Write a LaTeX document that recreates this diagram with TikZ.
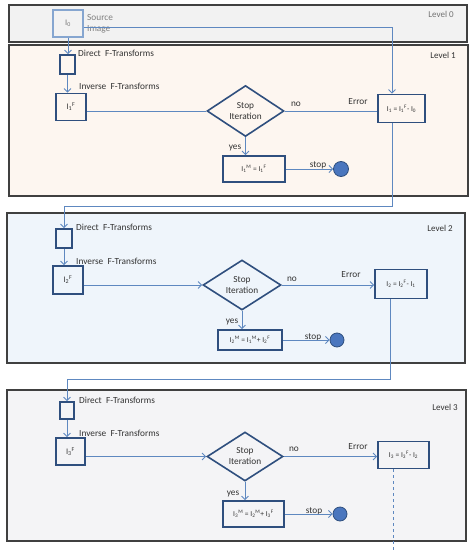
\documentclass[tikz,border=0pt]{standalone}
\usepackage{fontspec}
\setmainfont{Carlito}
\usetikzlibrary{shapes.geometric,arrows.meta,calc}
\definecolor{conn}{HTML}{5E88C0}
\definecolor{boxb}{HTML}{2F4F7E}
\definecolor{levb}{HTML}{404040}
\definecolor{txt}{HTML}{333333}
\definecolor{endfill}{HTML}{4A76BE}
\definecolor{fill0}{HTML}{F2F2F2}
\definecolor{fill1}{HTML}{FDF6F0}
\definecolor{fill2}{HTML}{EFF5FB}
\definecolor{fill3}{HTML}{F4F4F6}
\newcommand\Isub[1]{I\textsubscript{#1}}
\newcommand\Ist[2]{I\textsubscript{#1}\textsuperscript{#2}}
\begin{document}
\begin{tikzpicture}[x=1pt,y=-1pt,
  level/.style={draw=levb,line width=1.2pt},
  conn/.style={draw=conn,line width=0.9pt},
  arr/.style={conn,-{Straight Barb[length=3.5pt,width=7pt]}},
  bx/.style={draw=boxb,line width=1.6pt,inner sep=0,rectangle,text=txt,font=\fontsize{7.5}{9}\selectfont},
  dia/.style={diamond,draw=boxb,line width=1.6pt,inner sep=0,aspect=1.5,align=center,text=txt,font=\fontsize{9.3}{11}\selectfont},
  endc/.style={circle,fill=endfill,draw=boxb,line width=0.8pt,minimum size=15pt,inner sep=0},
  lbl/.style={inner sep=0,text=txt,font=\fontsize{9.3}{11}\selectfont},
  lvl/.style={inner sep=0,text=txt,font=\fontsize{9}{11}\selectfont}]
\useasboundingbox (0,0) rectangle (474,557);
\fill[white] (0,0) rectangle (474,557);
% level panels
\draw[level,fill=fill0] (9,5) rectangle (467,42);
\draw[level,fill=fill1] (9,45) rectangle (468,196);
\draw[level,fill=fill2] (7,213) rectangle (465,363);
\draw[level,fill=fill3] (7,390) rectangle (466,541);
\node[lvl,text=black!55] (lv0) at (441,14) {Level 0};
\node[lvl] (lv1) at (443,55) {Level 1};
\node[lvl] (lv2) at (440,228) {Level 2};
\node[lvl] (lv3) at (445,407) {Level 3};
% level 0
\node[bx,draw=conn!75,text=black!55,minimum width=30pt,minimum height=27pt,font=\fontsize{8.5}{10}\selectfont] (I0) at (68,23.5) {\Isub{0}};
\node[lbl,text=black!50,align=left,anchor=north west] (src) at (87,14) {Source\\Image};
% level 1
\node[bx,minimum width=15pt,minimum height=19pt] (D1) at (67.5,64.5) {};
\node[lbl,anchor=west] (dft1) at (78,53) {Direct\ \ F-Transforms};
\node[bx,minimum width=30pt,minimum height=27pt,font=\fontsize{8.5}{10}\selectfont] (I1F) at (71,107) {\Ist{1}{F}};
\node[lbl,anchor=west] (ift1) at (79,86) {Inverse\ \ F-Transforms};
\node[dia,minimum width=77pt,minimum height=51pt] (Dia1) at (245.5,111) {Stop\\Iteration};
\node[bx,minimum width=47pt,minimum height=28pt] (E1) at (401.5,108.5) {\Isub{1} = \Ist{1}{F}- \Isub{0}};
\node[bx,minimum width=62pt,minimum height=26pt] (M1) at (254,169) {\Ist{1}{M} = \Ist{1}{F}};
\node[endc] (C1) at (341,169) {};
\node[lbl] (no1) at (296,104) {no};
\node[lbl] (er1) at (358,102) {Error};
\node[lbl] (yes1) at (235,148) {yes};
\node[lbl] (st1) at (318,165) {stop};
\draw[arr] (I0.south) -- (I0.south |- D1.north);
\draw[arr] (D1.south) -- (D1.south |- I1F.north);
\draw[arr] ([yshift=-4pt]I0.east) -| ([xshift=-9.5pt]E1.north);
\draw[conn] (I1F.east |- Dia1) -- (Dia1.west);
\draw[conn] (Dia1.east) -- (Dia1.east -| E1.west);
\draw[arr] (Dia1.south) -- (Dia1.south |- M1.north);
\draw[arr] (M1.east) -- (C1.west);
% level 2
\node[bx,minimum width=16pt,minimum height=19pt] (D2) at (64,238.5) {};
\node[lbl,anchor=west] (dft2) at (76,227) {Direct\ \ F-Transforms};
\node[bx,minimum width=30pt,minimum height=28pt,font=\fontsize{8.5}{10}\selectfont] (I2F) at (68,280) {\Ist{2}{F}};
\node[lbl,anchor=west] (ift2) at (76,261) {Inverse\ \ F-Transforms};
\node[dia,minimum width=78pt,minimum height=50pt] (Dia2) at (242,285) {Stop\\Iteration};
\node[bx,minimum width=52pt,minimum height=29pt] (E2) at (401,284) {\Isub{2} = \Ist{2}{F}- \Isub{1}};
\node[bx,minimum width=64pt,minimum height=20pt] (M2) at (250,340) {\Ist{2}{M} = \Ist{1}{M}+ \Ist{2}{F}};
\node[endc,minimum size=14pt] (C2) at (337,340) {};
\node[lbl] (no2) at (292,279) {no};
\node[lbl] (er2) at (351,275) {Error};
\node[lbl] (yes2) at (232,322) {yes};
\node[lbl] (st2) at (313,337) {stop};
\coordinate (t1) at (0,206);
\draw[arr] ([xshift=-9.5pt]E1.south) |- (D2.north |- t1) -- (D2.north);
\draw[arr] (D2.south) -- (D2.south |- I2F.north);
\draw[arr] (I2F.east |- Dia2) -- (Dia2.west);
\draw[arr] (Dia2.east) -- (Dia2.east -| E2.west);
\draw[arr] (Dia2.south) -- (Dia2.south |- M2.north);
\draw[arr] (M2.east) -- (C2.west);
% level 3
\node[bx,minimum width=14pt,minimum height=17pt] (D3) at (67,410.5) {};
\node[lbl,anchor=west] (dft3) at (79,400) {Direct\ \ F-Transforms};
\node[bx,minimum width=29pt,minimum height=27pt,font=\fontsize{8.5}{10}\selectfont] (I3F) at (70.5,451.5) {\Ist{3}{F}};
\node[lbl,anchor=west] (ift3) at (79,433) {Inverse\ \ F-Transforms};
\node[dia,minimum width=76pt,minimum height=49pt] (Dia3) at (245,456.5) {Stop\\Iteration};
\node[bx,minimum width=51pt,minimum height=27pt] (E3) at (403.5,455) {\Isub{3} = \Ist{3}{F}- \Isub{2}};
\node[bx,minimum width=61pt,minimum height=26pt] (M3) at (253.5,514) {\Ist{3}{M} = \Ist{2}{M}+ \Ist{3}{F}};
\node[endc,minimum size=14pt] (C3) at (340,514) {};
\node[lbl] (no3) at (294,449) {no};
\node[lbl] (er3) at (358,447) {Error};
\node[lbl] (yes3) at (233,494) {yes};
\node[lbl] (st3) at (314,511) {stop};
\coordinate (t2) at (0,379);
\coordinate (t3) at (0,552);
\draw[arr] ([xshift=-11pt]E2.south) |- (D3.north |- t2) -- (D3.north);
\draw[arr] (D3.south) -- (D3.south |- I3F.north);
\draw[arr] (I3F.east |- Dia3) -- (Dia3.west);
\draw[arr] (Dia3.east) -- (Dia3.east -| E3.west);
\draw[arr] (Dia3.south) -- (Dia3.south |- M3.north);
\draw[arr] (M3.east) -- (C3.west);
\draw[conn,dashed] ([xshift=-10.5pt]E3.south) -- ([xshift=-10.5pt]E3.south |- t3);
\end{tikzpicture}
\end{document}
